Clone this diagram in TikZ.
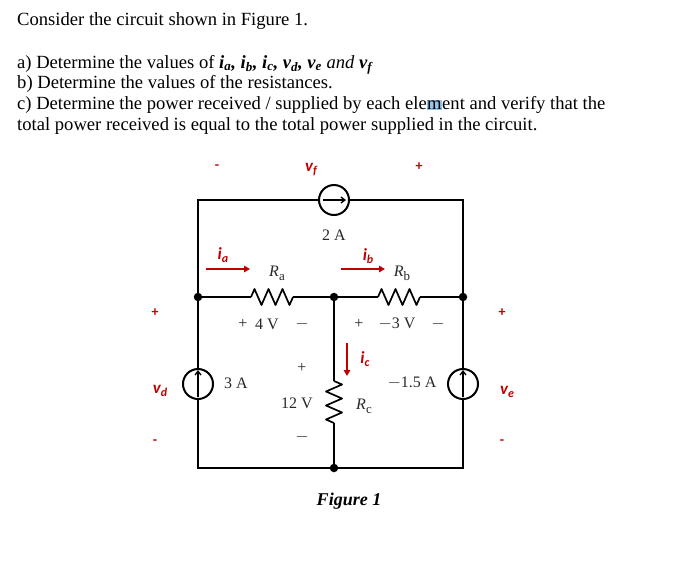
\documentclass[tikz,border=0pt]{standalone}
\usepackage{fontspec}
\setmainfont{Liberation Serif}
\newfontfamily\lblfont{Carlito}
\usetikzlibrary{arrows.meta,decorations.pathmorphing}

\definecolor{lblred}{RGB}{192,0,0}
\definecolor{selblue}{RGB}{150,195,235}
\definecolor{partgray}{RGB}{40,40,40}

\newcommand{\quant}[2]{{\lblfont\bfseries\itshape #1\raisebox{-0.35ex}{\fontsize{12}{12}\selectfont #2}}}
\newcommand{\resname}[1]{\textit{R}\raisebox{-0.5ex}{\fontsize{13}{13}\selectfont #1}}
\newcommand{\hlm}[1]{{\setlength{\fboxsep}{0.5pt}\colorbox{selblue}{#1}}}

\tikzset{
  wire/.style={line width=2pt, line join=miter},
  res/.style={line width=1.7pt, line join=round, decorate,
    decoration={zigzag, segment length=14pt, amplitude=8pt}},
  src/.style={circle, draw, line width=2pt, minimum size=30pt, inner sep=0pt},
  srcarrow/.style={line width=1.3pt, -{Straight Barb[length=4pt,width=6pt]}},
  jn/.style={circle, fill, minimum size=8.5pt, inner sep=0pt},
  val/.style={text=partgray, font=\fontsize{16}{16}\selectfont, inner sep=0pt},
  qlbl/.style={text=lblred, font=\fontsize{17}{17}\selectfont, inner sep=0pt},
  sgn/.style={text=lblred, font=\lblfont\bfseries\fontsize{14}{14}\selectfont, inner sep=0pt},
  cur/.style={draw=lblred, line width=1.7pt, -{Triangle[length=6pt,width=6.5pt]}},
  prose/.style={anchor=base west, inner sep=0pt, font=\fontsize{18.6}{20.7}\selectfont},
}

\begin{document}
\begin{tikzpicture}[x=1pt,y=-1pt]
  \useasboundingbox (0,0) rectangle (688,579);

  % --- question text
  \node[prose] (q0) at (17,25) {Consider the circuit shown in Figure 1.};
  \node[prose] (qa) at (17,68) {a) Determine the values of
    {\bfseries\itshape i\textsubscript{a}, i\textsubscript{b}, i\textsubscript{c},
     v\textsubscript{d}, v\textsubscript{e}} {\itshape and}
    {\bfseries\itshape v\textsubscript{f}}};
  \node[prose] (qb) at (17,88.6) {b) Determine the values of the resistances.};
  \node[prose] (qc) at (17,109.3) {c) Determine the power received / supplied by each ele\hlm{m}ent and verify that the};
  \node[prose] (qd) at (17,130) {total power received is equal to the total power supplied in the circuit.};

  % --- corners, junctions, sources
  \coordinate (tl) at (198,200);
  \coordinate (tr) at (463,200);
  \coordinate (bl) at (198,468);
  \coordinate (br) at (463,468);
  \node[jn] (n1) at (198,297) {};
  \node[jn] (n2) at (334,297) {};
  \node[jn] (n3) at (463,297) {};
  \node[jn] (n4) at (334,468) {};
  \node[src] (Sf) at (334,200) {};
  \node[src] (Sd) at (198,384) {};
  \node[src] (Se) at (463,384) {};

  % resistor ends
  \coordinate (ra1) at (251,297);
  \coordinate (ra2) at (293,297);
  \coordinate (rb1) at (378,297);
  \coordinate (rb2) at (420,297);
  \coordinate (rc1) at (334,381);
  \coordinate (rc2) at (334,423);

  % arrow ends inside the sources
  \coordinate (af0) at (323,200);
  \coordinate (af1) at (346,200);
  \coordinate (ad0) at (198,397);
  \coordinate (ad1) at (198,370);
  \coordinate (ae0) at (463,397);
  \coordinate (ae1) at (463,370);

  % --- outer loop
  \draw[wire] (Sd) -- (n1) -- (tl) -- (Sf) -- (tr) -- (n3) -- (Se) -- (br) -- (n4) -- (bl) -- (Sd);

  % --- middle branches
  \draw[wire] (n1) -- (ra1);
  \draw[res] (ra1) -- (ra2);
  \draw[wire] (ra2) -- (n2) -- (rb1);
  \draw[res] (rb1) -- (rb2);
  \draw[wire] (rb2) -- (n3);
  \draw[wire] (n2) -- (rc1);
  \draw[res] (rc1) -- (rc2);
  \draw[wire] (rc2) -- (n4);

  % source arrows
  \draw[srcarrow] (af0) -- (af1);
  \draw[srcarrow] (ad0) -- (ad1);
  \draw[srcarrow] (ae0) -- (ae1);

  % --- values
  \node[val] (vSf) at (334,235) {2 A};
  \node[val] (vSd) at (236,383) {3 A};
  \node[val] (vSe) at (412,383) {$-$1.5 A};
  \node[val] (lRa) at (277,273) {\resname{a}};
  \node[val] (lRb) at (402,273) {\resname{b}};
  \node[val] (lRc) at (364,406) {\resname{c}};
  \node[val] (pa) at (243,324) {+};
  \node[val] (va) at (267,324) {4 V};
  \node[val] (ma) at (302,324) {$-$};
  \node[val] (pb) at (359,324) {+};
  \node[val] (vb) at (397,324) {$-$3 V};
  \node[val] (mb) at (438,324) {$-$};
  \node[val] (pc) at (302,368) {+};
  \node[val] (vc) at (297,403) {12 V};
  \node[val] (mc) at (302,437) {$-$};

  % --- red labels
  \coordinate (ia0) at (206,269);
  \coordinate (ia1) at (250,269);
  \coordinate (ib0) at (341,269);
  \coordinate (ib1) at (385,269);
  \coordinate (ic0) at (347,343);
  \coordinate (ic1) at (347,376);
  \draw[cur] (ia0) -- (ia1);
  \draw[cur] (ib0) -- (ib1);
  \draw[cur] (ic0) -- (ic1);
  \node[qlbl] (lia) at (223,255) {\quant{i}{a}};
  \node[qlbl] (lib) at (368,256) {\quant{i}{b}};
  \node[qlbl] (lic) at (365,359) {\quant{i}{c}};
  \node[qlbl] (lvf) at (311,170) {\quant{v}{f}};
  \node[qlbl] (lvd) at (160,391) {\quant{v}{d}};
  \node[qlbl] (lve) at (507,392) {\quant{v}{e}};
  \node[sgn] (sf1) at (217,167) {-};
  \node[sgn] (sf2) at (419,167) {+};
  \node[sgn] (sd1) at (155,313) {+};
  \node[sgn] (sd2) at (155,442) {-};
  \node[sgn] (se1) at (502,313) {+};
  \node[sgn] (se2) at (502,442) {-};

  % caption
  \node[font=\fontsize{18}{18}\selectfont\bfseries\itshape] (cap) at (349,501) {Figure 1};
\end{tikzpicture}
\end{document}
